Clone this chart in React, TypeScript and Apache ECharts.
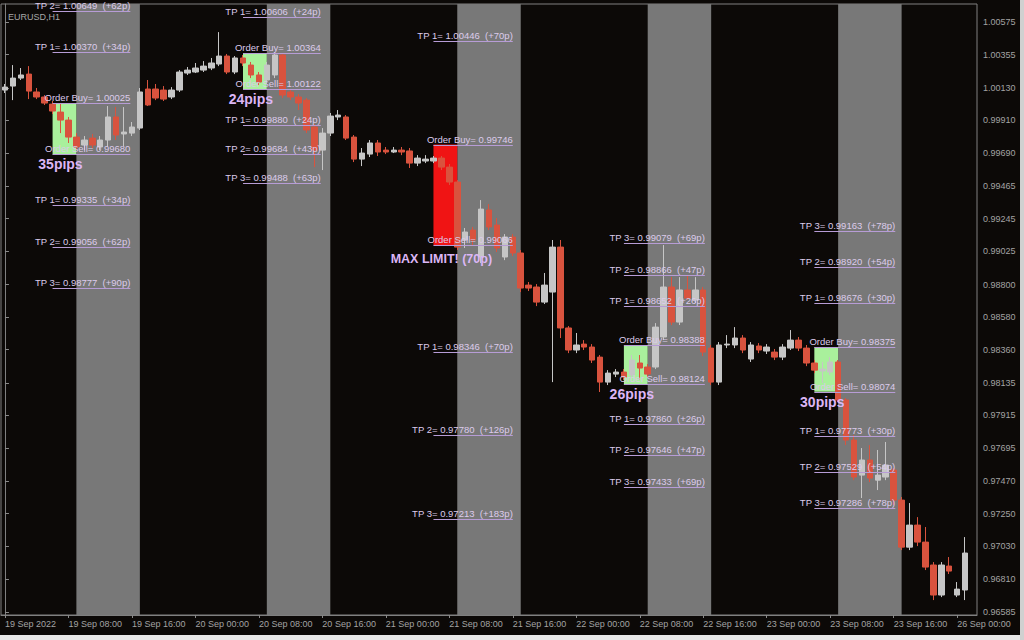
import React, { useEffect, useRef } from "react";
import * as echarts from "echarts";

// ---------- axes ----------
const dayNames = ["19 Sep", "20 Sep", "21 Sep", "22 Sep", "23 Sep"];
const categories: string[] = [];
for (const d of dayNames) for (let h = 0; h < 24; h++) categories.push(`${d} ${String(h).padStart(2, "0")}:00`);
categories.push("26 Sep 00:00", "26 Sep 01:00", "26 Sep 02:00");

const xTickLabels = [
  "19 Sep 2022", "19 Sep 08:00", "19 Sep 16:00", "20 Sep 00:00", "20 Sep 08:00", "20 Sep 16:00",
  "21 Sep 00:00", "21 Sep 08:00", "21 Sep 16:00", "22 Sep 00:00", "22 Sep 08:00", "22 Sep 16:00",
  "23 Sep 00:00", "23 Sep 08:00", "23 Sep 16:00", "26 Sep 00:00",
];
const yTickLabels = [
  0.96585, 0.9681, 0.9703, 0.9725, 0.9747, 0.97695, 0.97915, 0.98135, 0.9836, 0.9858,
  0.988, 0.99025, 0.99245, 0.99465, 0.9969, 0.9991, 1.0013, 1.00355, 1.00575,
];
const yAxisMin = 0.96565;
const yAxisMax = 1.00697;

// ---------- candles (EURUSD H1) ----------
const opens = [
  1.00115, 1.00142, 1.00196, 1.00223, 1.00102, 1.00068, 1.0002, 0.99966, 0.99912, 0.99797,
  0.99743, 0.9979, 0.9973, 0.99777, 0.99933, 0.99818, 0.99824, 0.99858, 1.00122, 1.00122,
  1.00115, 1.00068, 1.00115, 1.0023, 1.00237, 1.0025, 1.00264, 1.00291, 1.00345, 1.00237,
  1.00332, 1.00284, 1.00217, 1.00183, 1.00217, 1.00352, 1.00102, 1.00068, 1.00047, 0.99865,
  0.99709, 0.99824, 0.99933, 0.99933, 0.99797, 0.99648, 0.99682, 0.99757, 0.99709, 0.99696,
  0.99709, 0.99703, 0.99621, 0.99635, 0.99635, 0.99655, 0.99594, 0.99493, 0.99101, 0.99168,
  0.98986, 0.99304, 0.99202, 0.98986, 0.99121, 0.99013, 0.98796, 0.98783, 0.98681, 0.98749,
  0.99053, 0.98506, 0.98357, 0.98397, 0.98377, 0.98309, 0.9814, 0.98194, 0.98208, 0.98188,
  0.98269, 0.98242, 0.98242, 0.98445, 0.98783, 0.98546, 0.98763, 0.98695, 0.98763, 0.9837,
  0.9814, 0.98391, 0.98391, 0.98438, 0.98296, 0.98384, 0.9835, 0.98343, 0.98309, 0.9837,
  0.98424, 0.9837, 0.98269, 0.98215, 0.98208, 0.98276, 0.98019, 0.97748, 0.97511, 0.97613,
  0.97477, 0.97498, 0.97545, 0.97342, 0.97024, 0.97173, 0.97058, 0.96903, 0.967, 0.96896,
  0.967, 0.96734,
];
const closes = [
  1.00135, 1.00196, 1.00217, 1.00108, 1.00068, 1.00027, 0.99973, 0.99912, 0.99797, 0.9973,
  0.99777, 0.99743, 0.99777, 0.99933, 0.99811, 0.99831, 0.99865, 1.00102, 1.00014, 1.00061,
  1.00054, 1.00115, 1.00237, 1.0025, 1.00264, 1.00277, 1.00298, 1.00345, 1.00237, 1.00332,
  1.00298, 1.00217, 1.00169, 1.00284, 1.00352, 1.00081, 1.00068, 1.00027, 0.99845, 0.99709,
  0.99824, 0.99939, 0.99946, 0.9979, 0.99648, 0.99689, 0.99757, 0.99696, 0.99696, 0.99709,
  0.99696, 0.99621, 0.99655, 0.99648, 0.99655, 0.99594, 0.99493, 0.99053, 0.99155, 0.99101,
  0.9931, 0.99189, 0.99047, 0.99121, 0.99013, 0.98776, 0.98776, 0.98681, 0.98796, 0.99053,
  0.98506, 0.98357, 0.98391, 0.98377, 0.98289, 0.9814, 0.98201, 0.98208, 0.98174, 0.98289,
  0.98235, 0.98194, 0.98512, 0.98783, 0.98546, 0.98763, 0.98708, 0.98763, 0.98343, 0.9814,
  0.98391, 0.98397, 0.98438, 0.98357, 0.98391, 0.98357, 0.98377, 0.98309, 0.98377, 0.98424,
  0.9837, 0.98269, 0.98221, 0.98228, 0.98276, 0.98019, 0.97748, 0.97498, 0.97613, 0.97491,
  0.97511, 0.97579, 0.97342, 0.97024, 0.97173, 0.97058, 0.96889, 0.967, 0.96903, 0.96862,
  0.9674, 0.96984,
];
const lows = [
  1.00095, 1.00047, 1.00183, 1.00054, 1.00054, 1.00014, 0.99953, 0.99824, 0.99757, 0.99709,
  0.99709, 0.99723, 0.99709, 0.9973, 0.99777, 0.99736, 0.99804, 0.99845, 1.00007, 1.00047,
  1.00041, 1.00054, 1.00102, 1.00217, 1.0023, 1.00237, 1.0025, 1.00277, 1.00223, 1.00223,
  1.00277, 1.00196, 1.00149, 1.00156, 1.00196, 1.00061, 1.00047, 0.9998, 0.99824, 0.99594,
  0.99574, 0.99804, 0.99912, 0.99777, 0.99628, 0.99601, 0.99662, 0.99669, 0.99682, 0.99689,
  0.99675, 0.99588, 0.99601, 0.99621, 0.99621, 0.99574, 0.99473, 0.99033, 0.99047, 0.99067,
  0.98945, 0.99168, 0.9902, 0.98965, 0.98993, 0.98749, 0.98756, 0.98654, 0.98668, 0.9814,
  0.98438, 0.98336, 0.98336, 0.98357, 0.98269, 0.98073, 0.9812, 0.98174, 0.98154, 0.98167,
  0.98154, 0.98174, 0.98228, 0.98424, 0.98526, 0.98526, 0.98695, 0.98675, 0.98316, 0.9812,
  0.9812, 0.9837, 0.9837, 0.98336, 0.98276, 0.98336, 0.9833, 0.98289, 0.98289, 0.98357,
  0.9835, 0.98248, 0.98201, 0.98134, 0.98188, 0.98005, 0.97714, 0.97477, 0.97356, 0.97464,
  0.9741, 0.97477, 0.97308, 0.97004, 0.97004, 0.97031, 0.96869, 0.96666, 0.96686, 0.96842,
  0.96686, 0.96666,
];
const highs = [
  1.00156, 1.00284, 1.00264, 1.00277, 1.00129, 1.00081, 1.00041, 1.00027, 0.99933, 0.99824,
  0.99804, 0.99818, 0.99804, 1.00007, 1.0, 1.0, 0.99899, 1.00129, 1.00183, 1.00156,
  1.00142, 1.00135, 1.0025, 1.00271, 1.00298, 1.00311, 1.00332, 1.00507, 1.00359, 1.00345,
  1.00352, 1.00305, 1.00237, 1.00305, 1.00372, 1.00365, 1.00115, 1.00088, 1.00061, 0.99885,
  0.99858, 0.9996, 0.9998, 0.99946, 0.99811, 0.99723, 0.99777, 0.99777, 0.9973, 0.9973,
  0.9973, 0.99723, 0.99675, 0.99675, 0.99669, 0.99669, 0.99615, 0.99506, 0.99182, 0.99189,
  0.99371, 0.99344, 0.9925, 0.99141, 0.99141, 0.99033, 0.98817, 0.98803, 0.98878, 0.99101,
  0.99101, 0.98519, 0.98472, 0.98424, 0.98397, 0.98323, 0.98221, 0.98228, 0.98228, 0.98323,
  0.98323, 0.98262, 0.98539, 0.99067, 0.9885, 0.9885, 0.98864, 0.9885, 0.98783, 0.98391,
  0.98411, 0.98458, 0.98512, 0.98458, 0.98411, 0.98404, 0.98397, 0.98364, 0.98397, 0.98492,
  0.98445, 0.98391, 0.98289, 0.98276, 0.98309, 0.98289, 0.98032, 0.97782, 0.97694, 0.97714,
  0.97681, 0.97735, 0.97559, 0.97363, 0.97322, 0.97227, 0.9716, 0.96923, 0.96923, 0.96957,
  0.96788, 0.97092,
];

// ---------- session bands (candle index range) ----------
const bandStart = [9, 33, 57, 81, 105];
const bandEnd = [17, 41, 65, 89, 113];

// ---------- trades ----------
const tradeStart = [6, 30, 54, 78, 102];
const tradeBoxEnd = [9, 33, 57, 81, 105];
const tradeLineEnd = [15.8, 39.8, 64, 88.2, 112.2];
const orderBuy = [1.00025, 1.00364, 0.99746, 0.98388, 0.98375];
const orderSell = [0.9968, 1.00122, 0.99066, 0.98124, 0.98074];
const tradeResult = ["35pips", "24pips", "MAX LIMIT! (70p)", "26pips", "30pips"];
const tradeBoxColor = ["#a9f09c", "#a9f09c", "#f01414", "#a9f09c", "#a9f09c"];

const tpTrade = [0, 0, 0, 0, 0, 1, 1, 1, 1, 2, 2, 2, 2, 3, 3, 3, 3, 3, 3, 4, 4, 4, 4, 4, 4];
const tpName = [
  "TP 2", "TP 1", "TP 1", "TP 2", "TP 3",
  "TP 1", "TP 1", "TP 2", "TP 3",
  "TP 1", "TP 1", "TP 2", "TP 3",
  "TP 3", "TP 2", "TP 1", "TP 1", "TP 2", "TP 3",
  "TP 3", "TP 2", "TP 1", "TP 1", "TP 2", "TP 3",
];
const tpPrice = [
  1.00649, 1.0037, 0.99335, 0.99056, 0.98777,
  1.00606, 0.9988, 0.99684, 0.99488,
  1.00446, 0.98346, 0.9778, 0.97213,
  0.99079, 0.98866, 0.98652, 0.9786, 0.97646, 0.97433,
  0.99163, 0.9892, 0.98676, 0.97773, 0.97529, 0.97286,
];
const tpPips = [62, 34, 34, 62, 90, 24, 24, 43, 63, 70, 70, 126, 183, 69, 47, 26, 26, 47, 69, 78, 54, 30, 30, 54, 78];

// build annotation table
const annText: string[] = [];
const annData: number[][] = [];
tradeStart.forEach((s, i) => {
  annText.push(`Order Buy= ${orderBuy[i].toFixed(5)}`);
  annData.push([s, tradeLineEnd[i], orderBuy[i]]);
  annText.push(`Order Sell= ${orderSell[i].toFixed(5)}`);
  annData.push([s, tradeLineEnd[i], orderSell[i]]);
});
tpTrade.forEach((t, j) => {
  annText.push(`${tpName[j]}= ${tpPrice[j].toFixed(5)}\u00a0 (+${tpPips[j]}p)`);
  annData.push([tradeStart[t], tradeLineEnd[t], tpPrice[j]]);
});

const FONT = "'Liberation Sans', Arial, sans-serif";

export default function App() {
  const ref = useRef<HTMLDivElement>(null);
  useEffect(() => {
    const chart = echarts.init(ref.current!, null, { renderer: "svg" });
    const option: any = {
      animation: false,
      backgroundColor: "#0c0907",
      textStyle: { fontFamily: FONT },
      grid: {
        left: 1, right: 47, top: 4, bottom: 25, show: true,
        borderColor: "#808080", borderWidth: 1, backgroundColor: "transparent",
      },
      xAxis: [
        {
          type: "category",
          data: categories,
          boundaryGap: true,
          axisLine: { lineStyle: { color: "#808080" } },
          axisTick: {
            show: true, alignWithLabel: true, length: 3,
            interval: (i: number) => i % 8 === 0,
            lineStyle: { color: "#8a8a8a" },
          },
          axisLabel: {
            interval: (i: number) => i % 8 === 0,
            formatter: (_v: string, i: number) => xTickLabels[i / 8] ?? "",
            color: "#a3a3a3", fontSize: 9, fontFamily: FONT, align: "left", margin: 4,
          },
          splitLine: { show: false },
        },
        { type: "value", min: -0.5, max: 122.5, show: false },
      ],
      yAxis: {
        type: "value",
        position: "right",
        min: yAxisMin,
        max: yAxisMax,
        axisLine: { show: true, lineStyle: { color: "#808080" } },
        axisTick: { show: true, length: 4, customValues: yTickLabels, lineStyle: { color: "#8a8a8a" } },
        axisLabel: {
          customValues: yTickLabels,
          formatter: (v: number) => v.toFixed(5),
          color: "#a3a3a3", fontSize: 9, fontFamily: FONT, margin: 6,
        },
        splitLine: { show: false },
      },
      graphic: [
        { type: "text", left: 8, top: 12, z: 100, style: { text: "EURUSD,H1", fill: "#a8a8a8", fontSize: 9, fontFamily: FONT } },
        { type: "rect", left: 0, top: 635, shape: { width: 1024, height: 5 }, style: { fill: "#e8e8e8" } },
        { type: "rect", left: 1020, top: 0, shape: { width: 4, height: 640 }, style: { fill: "#d0d0d0" } },
      ],
      series: [
        {
          type: "custom",
          name: "sessions",
          xAxisIndex: 1,
          yAxisIndex: 0,
          z: 1,
          silent: true,
          encode: { x: [0, 1], y: 2 },
          data: bandStart.map((s, i) => [s, bandEnd[i], 0.98]),
          renderItem: (params: any, api: any) => {
            const cs = params.coordSys;
            const a = api.coord([api.value(0), 0.98]);
            const b = api.coord([api.value(1), 0.98]);
            return {
              type: "rect",
              shape: { x: a[0], y: cs.y, width: b[0] - a[0], height: cs.height },
              style: { fill: "#787878" },
            };
          },
        },
        {
          type: "custom",
          name: "boxes",
          xAxisIndex: 1,
          yAxisIndex: 0,
          z: 2,
          silent: true,
          encode: { x: [0, 1], y: [2, 3] },
          data: tradeStart.map((s, i) => [s, tradeBoxEnd[i], orderBuy[i], orderSell[i]]),
          renderItem: (params: any, api: any) => {
            const a = api.coord([api.value(0), api.value(2)]);
            const b = api.coord([api.value(1), api.value(3)]);
            return {
              type: "rect",
              shape: { x: a[0], y: a[1], width: b[0] - a[0], height: b[1] - a[1] },
              style: { fill: tradeBoxColor[params.dataIndex] },
            };
          },
        },
        {
          type: "candlestick",
          name: "EURUSD",
          xAxisIndex: 0,
          yAxisIndex: 0,
          z: 3,
          silent: true,
          barWidth: 6,
          data: opens.map((o, i) => [o, closes[i], lows[i], highs[i]]),
          itemStyle: {
            color: "#c6c6c6",
            color0: "#d9533e",
            borderColor: "#c6c6c6",
            borderColor0: "#d9533e",
            borderWidth: 1,
          },
        },
        {
          type: "custom",
          name: "levels",
          xAxisIndex: 1,
          yAxisIndex: 0,
          z: 4,
          silent: true,
          clip: false,
          encode: { x: [0, 1], y: 2 },
          data: annData,
          renderItem: (params: any, api: any) => {
            const p = api.value(2);
            const a = api.coord([api.value(0), p]);
            const b = api.coord([api.value(1), p]);
            const y = Math.round(a[1]) + 0.5;
            return {
              type: "group",
              children: [
                { type: "line", shape: { x1: a[0], y1: y, x2: b[0], y2: y }, style: { stroke: "#b79cd6", lineWidth: 1 } },
                {
                  type: "text", x: b[0], y: y - 1.5,
                  style: {
                    text: annText[params.dataIndex], fill: "#dccbeb", fontSize: 9.5, fontFamily: FONT,
                    align: "right", verticalAlign: "bottom",
                  },
                },
              ],
            };
          },
        },
        {
          type: "custom",
          name: "results",
          xAxisIndex: 1,
          yAxisIndex: 0,
          z: 5,
          silent: true,
          clip: false,
          encode: { x: 0, y: 1 },
          data: tradeStart.map((s, i) => [(s + tradeBoxEnd[i]) / 2, orderSell[i]]),
          renderItem: (params: any, api: any) => {
            const a = api.coord([api.value(0), api.value(1)]);
            const big = params.dataIndex === 2;
            return {
              type: "text",
              x: a[0] - 4,
              y: a[1] + (big ? 7 : 3),
              style: {
                text: tradeResult[params.dataIndex], fill: "#dcb6f5", fontSize: big ? 12.5 : 14,
                fontWeight: "bold", fontFamily: FONT, align: "center", verticalAlign: "top",
              },
            };
          },
        },
      ],
    };
    chart.setOption(option);
    return () => chart.dispose();
  }, []);
  return <div ref={ref} style={{ position: "fixed", left: 0, top: 0, width: 1024, height: 640 }} />;
}
